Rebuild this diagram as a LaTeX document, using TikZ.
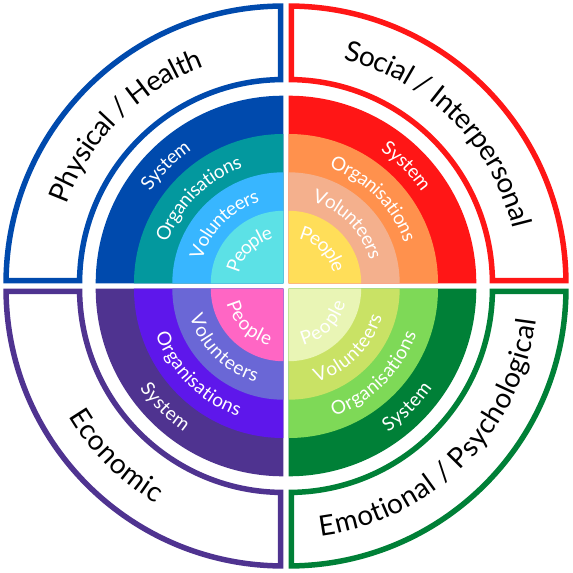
\documentclass[tikz,border=0pt]{standalone}
\usepackage{fontspec}
\setmainfont{Lato}
\usetikzlibrary{decorations.text}

% Farben
\definecolor{blau}{HTML}{004AAD}
\definecolor{petrol}{HTML}{03989E}
\definecolor{hellblau}{HTML}{38B6FF}
\definecolor{tuerkis}{HTML}{5CE1E6}
\definecolor{rot}{HTML}{FF1616}
\definecolor{orangeton}{HTML}{FF914D}
\definecolor{pfirsich}{HTML}{F4B08D}
\definecolor{gelb}{HTML}{FFDE59}
\definecolor{lila}{HTML}{4F3390}
\definecolor{violett}{HTML}{5E17EB}
\definecolor{blaulila}{HTML}{6A67D6}
\definecolor{rosa}{HTML}{FF66C4}
\definecolor{gruen}{HTML}{008037}
\definecolor{hellgruen}{HTML}{7ED957}
\definecolor{limette}{HTML}{C9E265}
\definecolor{blassgruen}{HTML}{E9F5B5}

\tikzset{
    innen/.style={decorate, decoration={text along path, text align=center,
        text color=white, raise=-6.5pt,
        text={|\fontsize{19}{19}\selectfont|#1}}},
    aussen/.style={decorate, decoration={text along path, text align=center,
        text color=black, raise=-9.5pt,
        text={|\fontsize{28}{28}\selectfont|#1}}},
    rand/.style={line width=11pt}
}

% Ring um einen Viertelkreis
\newcommand{\ringweg}[1]{(#1-45:280) arc[start angle=#1-45, end angle=#1+45, radius=280]
    -- (#1+45:201) arc[start angle=#1+45, end angle=#1-45, radius=201] -- cycle}

\begin{document}
\begin{tikzpicture}[x=1pt, y=1pt]
\useasboundingbox (-286,-287) rectangle (287,286);

\foreach \cx/\cy/\w/\a/\b/\ca/\cb/\cc/\cd/\titel in {
    -2.7/2.7/135/215/55/blau/petrol/hellblau/tuerkis/{Physical / Health},
    2.7/2.7/45/125/-35/rot/orangeton/pfirsich/gelb/{Social / Interpersonal},
    -2.7/-2.7/225/145/305/lila/violett/blaulila/rosa/{Economic},
    2.7/-2.7/315/235/395/gruen/hellgruen/limette/blassgruen/{Emotional / Psychological}}
{
\begin{scope}[shift={(\cx,\cy)}]
    % Felder
    \foreach \r/\f in {187.6/\ca, 149.3/\cb, 111/\cc, 72.5/\cd}
        \fill[fill=\f] (0,0) -- (\w-45:\r) arc[start angle=\w-45, end angle=\w+45, radius=\r] -- cycle;

    % Rand
    \begin{scope}
        \clip \ringweg{\w};
        \draw[rand, draw=\ca] \ringweg{\w};
    \end{scope}

    % Beschriftung
    \path[innen=System] (\a:168) arc[start angle=\a, end angle=\b, radius=168];
    \path[innen=Organisations] (\a:129) arc[start angle=\a, end angle=\b, radius=129];
    \path[innen=Volunteers] (\a:91) arc[start angle=\a, end angle=\b, radius=91];
    \path[innen=People] (\a:52) arc[start angle=\a, end angle=\b, radius=52];
    \path[aussen/.expanded=\titel] (\a:240) arc[start angle=\a, end angle=\b, radius=240];
\end{scope}
}
\end{tikzpicture}
\end{document}
